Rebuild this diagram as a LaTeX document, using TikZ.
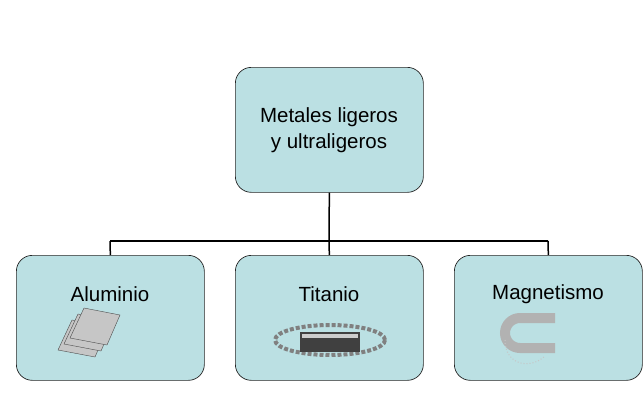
\documentclass[tikz,border=0pt]{standalone}
\usepackage{fontspec}
\setmainfont{Liberation Sans}
\begin{document}
\begin{tikzpicture}[x=1pt,y=-1pt,
  box/.style={draw=black!85,line width=0.7pt,fill={rgb,255:red,187;green,224;blue,227},rounded corners=16pt,minimum width=188pt,minimum height=125pt,anchor=north west,inner sep=0},
  lbl/.style={font=\fontsize{20.5}{26}\selectfont,align=center},
  conn/.style={line width=1.5pt,black}]
\useasboundingbox (0,0) rectangle (643,418);
\node[box] (top) at (235,67) {};
\node[box] (al) at (16,255) {};
\node[box] (ti) at (235,255) {};
\node[box] (ma) at (454,255) {};
\node[lbl] (tt) at (329,130) {Metales ligeros\\ y ultraligeros};
\node[lbl] (alt) at (110,294) {Aluminio};
\node[lbl] (tit) at (329,294) {Titanio};
\node[lbl] (mat) at (548,294) {Magnetismo};
\coordinate (j) at (329,241);
\coordinate (jl) at (110,241);
\coordinate (jr) at (548,241);
\draw[conn] (top.south) -- (j);
\draw[conn] (jl) -- (jr);
\draw[conn] (jl) -- (al.north);
\draw[conn] (j) -- (ti.north);
\draw[conn] (jr) -- (ma.north);
% aluminium sheets
\foreach \d in {0,6,12}{
  \draw[gray!60!black,fill=gray!45] (58+\d,350-\d) -- (95+\d,357-\d) -- (108+\d,327-\d) -- (72+\d,320-\d) -- cycle;}
% titanium chain ring
\draw[gray,line width=4pt,dotted] (330,340) ellipse (55 and 15);
\fill[black!75] (300,332) rectangle (360,352);
\fill[gray!40] (302,334) rectangle (358,338);
% magnet
\draw[gray!60,line width=10pt] (555,318) -- (520,318) arc[start angle=-90,end angle=-270,radius=15] -- (555,348);
\draw[gray!45,line width=1pt,dotted] (505,340) .. controls (505,365) and (530,370) .. (545,356);
\end{tikzpicture}
\end{document}
